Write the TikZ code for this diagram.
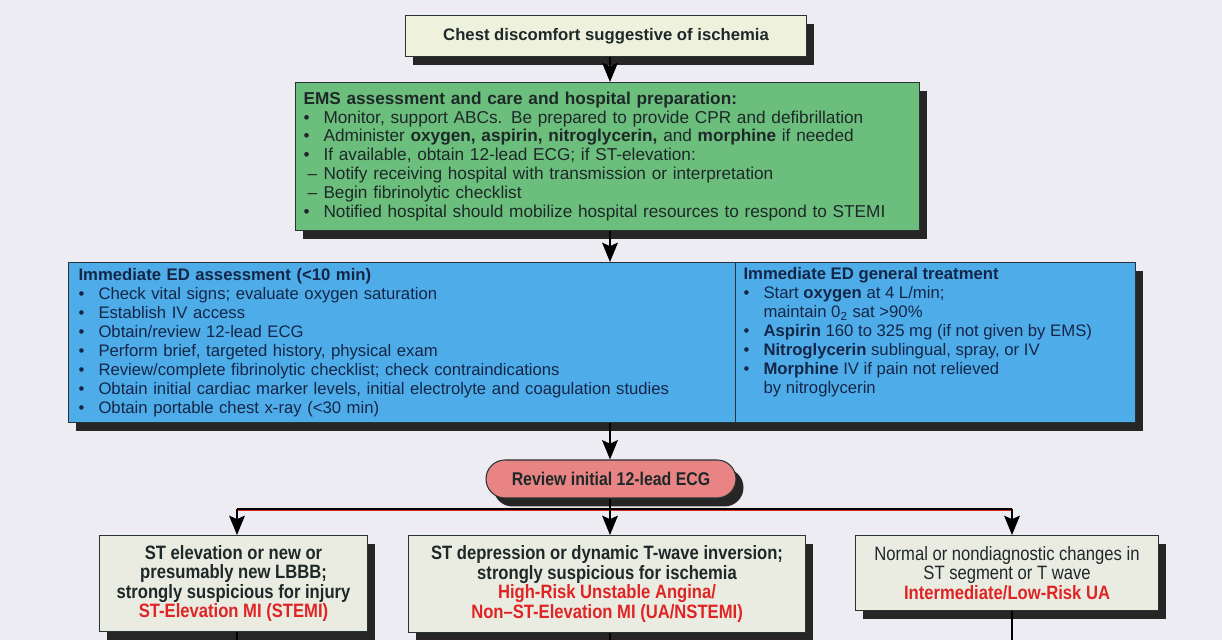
\documentclass[tikz,border=0pt]{standalone}
\usepackage{fontspec}
\setmainfont{Liberation Sans}
\newfontfamily\narrowfont{Liberation Sans}[FakeStretch=0.86]
\usetikzlibrary{arrows.meta,shadows}

\definecolor{bgpage}{RGB}{236,236,242}
\definecolor{boxline}{RGB}{40,52,52}
\definecolor{creamfill}{RGB}{238,242,220}
\definecolor{emsgreen}{RGB}{108,190,125}
\definecolor{edblue}{RGB}{78,172,232}
\definecolor{ecgred}{RGB}{232,132,132}
\definecolor{greyfill}{RGB}{234,236,226}
\definecolor{darktext}{RGB}{30,40,40}
\definecolor{navytext}{RGB}{20,38,72}
\definecolor{alertred}{RGB}{224,36,36}

\newcommand\bul{\makebox[0.4cm][l]{\textbullet}}
\newcommand\dsh{\makebox[0.4cm][l]{\hspace*{0.08cm}\textendash}}

\tikzset{
  box/.style={draw=boxline, line width=0.6pt, rectangle, anchor=north west,
    inner ysep=0pt, text=darktext,
    drop shadow={shadow xshift=0.15cm, shadow yshift=-0.17cm, fill=black!85, opacity=1}},
  arr/.style={-{Stealth[length=11pt,width=9pt,inset=2pt,fill=black]}, line width=0.8pt},
  wire/.style={line width=0.8pt}
}

\begin{document}
\begin{tikzpicture}
    % Page background, fixes the size too
    \fill[bgpage] (0,0) rectangle (24.44,12.8);
    \useasboundingbox (0,0) rectangle (24.44,12.8);

    % Spine and fork points
    \coordinate (spine) at (12.2,0);
    \coordinate (forkL) at (4.74,2.62);
    \coordinate (forkM) at (12.2,2.62);
    \coordinate (forkR) at (20.24,2.62);
    \coordinate (endL) at (4.74,0);
    \coordinate (endM) at (12.2,0);
    \coordinate (endR) at (20.24,0);

    % Top box
    \node[box, fill=creamfill, minimum width=8.02cm, minimum height=0.82cm,
          font=\fontsize{9.5}{11}\selectfont\bfseries] (chest) at (8.10,12.5)
          {Chest discomfort suggestive of ischemia};

    % EMS box
    \node[box, fill=emsgreen, inner xsep=0.16cm, text width=12.16cm, minimum height=2.96cm,
          align=left, font=\fontsize{9.8}{10.8}\selectfont] (ems) at (5.90,11.16)
          {\textbf{EMS assessment and care and hospital preparation:}\\
           \bul Monitor, support ABCs. Be prepared to provide CPR and defibrillation\\
           \bul Administer \textbf{oxygen, aspirin, nitroglycerin,} and \textbf{morphine} if needed\\
           \bul If available, obtain 12-lead ECG; if ST-elevation:\\
           \dsh Notify receiving hospital with transmission or interpretation\\
           \dsh Begin fibrinolytic checklist\\
           \bul Notified hospital should mobilize hospital resources to respond to STEMI};

    % ED boxes (assessment | treatment)
    \node[box, fill=edblue, text=navytext, inner xsep=0.2cm, text width=12.94cm, minimum height=3.2cm,
          align=left, font=\fontsize{9.5}{10.8}\selectfont] (assess) at (1.36,7.56)
          {\textbf{Immediate ED assessment (<10 min)}\\
           \bul Check vital signs; evaluate oxygen saturation\\
           \bul Establish IV access\\
           \bul Obtain/review 12-lead ECG\\
           \bul Perform brief, targeted history, physical exam\\
           \bul Review/complete fibrinolytic checklist; check contraindications\\
           \bul Obtain initial cardiac marker levels, initial electrolyte and coagulation studies\\
           \bul Obtain portable chest x-ray (<30 min)};
    \node[box, fill=edblue, text=navytext, inner xsep=0.16cm, minimum width=8cm, minimum height=3.2cm,
          font=\fontsize{9.5}{10.8}\selectfont] (treat) at (14.70,7.56)
          {\parbox[c][3.0cm][t]{7.68cm}{\raggedright
           \textbf{Immediate ED general treatment}\\
           \bul Start \textbf{oxygen} at 4 L/min;\\
           \hspace*{0.4cm}maintain 0\textsubscript{2} sat >90\%\\
           \bul \textbf{Aspirin} 160 to 325 mg (if not given by EMS)\\
           \bul \textbf{Nitroglycerin} sublingual, spray, or IV\\
           \bul \textbf{Morphine} IV if pain not relieved\\
           \hspace*{0.4cm}by nitroglycerin}};

    % Review ECG
    \node[box, anchor=center, fill=ecgred, rounded corners=0.38cm, minimum width=5cm, minimum height=0.76cm,
          font=\narrowfont\fontsize{10.5}{12}\selectfont\bfseries] (ecg) at (12.22,3.22)
          {Review initial 12-lead ECG};

    % Three outcomes
    \node[box, fill=greyfill, minimum width=5.36cm, minimum height=1.92cm, align=center,
          font=\narrowfont\fontsize{11}{11.1}\selectfont\bfseries] (stemi) at (1.98,2.10)
          {ST elevation or new or\\ presumably new LBBB;\\ strongly suspicious for injury\\
           \textcolor{alertred}{ST-Elevation MI (STEMI)}};
    \node[box, fill=greyfill, minimum width=7.94cm, minimum height=1.94cm, align=center,
          font=\narrowfont\fontsize{11}{11.1}\selectfont\bfseries] (nstemi) at (8.16,2.10)
          {ST depression or dynamic T-wave inversion;\\ strongly suspicious for ischemia\\
           \textcolor{alertred}{High-Risk Unstable Angina/}\\
           \textcolor{alertred}{Non\textendash ST-Elevation MI (UA/NSTEMI)}};
    \node[box, fill=greyfill, minimum width=6.06cm, minimum height=1.5cm, align=center,
          font=\narrowfont\fontsize{11}{11.1}\selectfont] (lowrisk) at (17.10,2.10)
          {Normal or nondiagnostic changes in\\ ST segment or T wave\\
           \textcolor{alertred}{\bfseries Intermediate/Low-Risk UA}};

    % Arrows down the spine
    \draw[arr] (chest.south -| spine) -- (ems.north -| spine);
    \draw[arr] (ems.south -| spine) -- (assess.north -| spine);
    \draw[arr] (assess.south -| spine) -- (ecg.north -| spine);
    \draw[wire] (ecg.south -| spine) -- (forkM);

    % Fork to the three outcomes
    \draw[alertred, line width=0.5pt] ([yshift=-0.03cm]forkL) -- ([yshift=-0.03cm]forkR);
    \draw[wire] (forkL) -- (forkR);
    \draw[arr] (forkL) -- (stemi.north -| forkL);
    \draw[arr] (forkM) -- (nstemi.north -| forkM);
    \draw[arr] (forkR) -- (lowrisk.north -| forkR);

    % Lines running on below
    \draw[wire] (stemi.south -| endL) -- (endL);
    \draw[wire] (nstemi.south -| endM) -- (endM);
    \draw[wire] (lowrisk.south -| endR) -- (endR);
\end{tikzpicture}
\end{document}
